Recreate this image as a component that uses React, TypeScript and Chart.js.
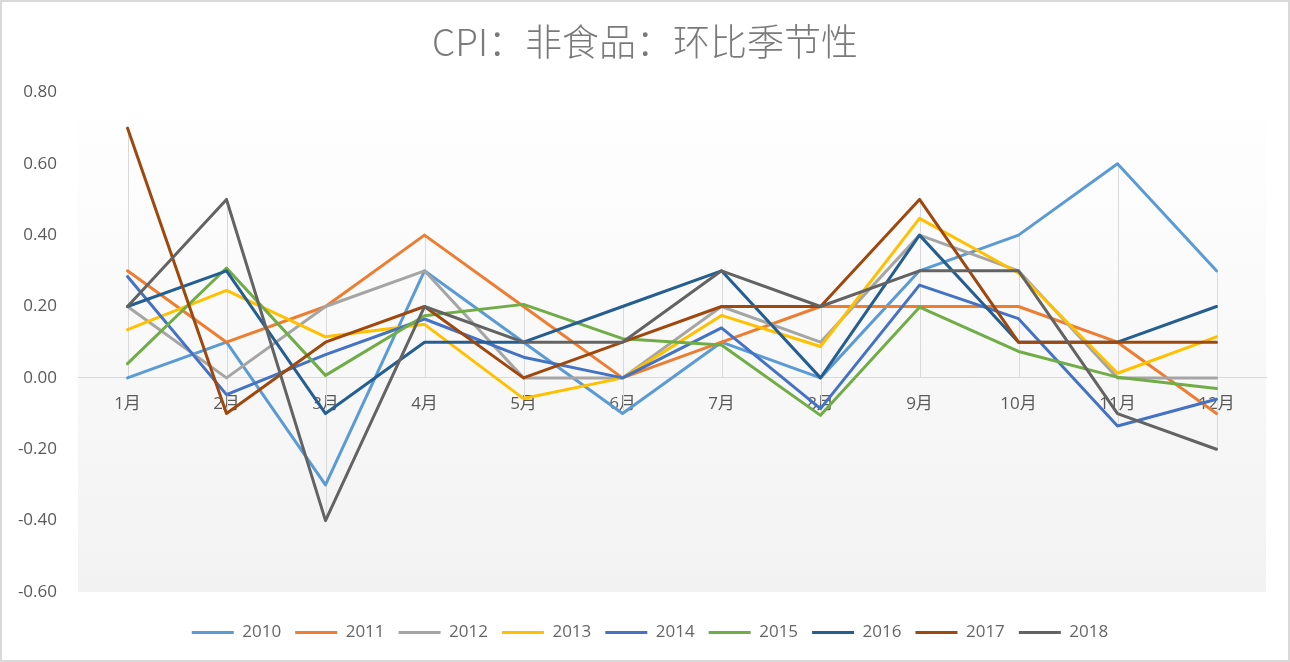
import { useEffect, useRef } from 'react';
import { Chart, registerables } from 'chart.js';

Chart.register(...registerables);

const months = ['1月', '2月', '3月', '4月', '5月', '6月', '7月', '8月', '9月', '10月', '11月', '12月'];
const years = ['2010', '2011', '2012', '2013', '2014', '2015', '2016', '2017', '2018'];
const colors = ['#5B9BD5', '#ED7D31', '#A5A5A5', '#FFC000', '#4472C4', '#70AD47', '#255E91', '#9E480E', '#636363'];

const y2010 = [0.0, 0.1, -0.3, 0.3, 0.1, -0.1, 0.1, 0.0, 0.3, 0.4, 0.6, 0.3];
const y2011 = [0.3, 0.1, 0.2, 0.4, 0.2, 0.0, 0.1, 0.2, 0.2, 0.2, 0.1, -0.1];
const y2012 = [0.2, 0.0, 0.2, 0.3, 0.0, 0.0, 0.2, 0.1, 0.4, 0.3, 0.0, 0.0];
const y2013 = [0.135, 0.245, 0.115, 0.15, -0.058, 0.0, 0.175, 0.088, 0.447, 0.294, 0.013, 0.115];
const y2014 = [0.284, -0.047, 0.065, 0.165, 0.058, 0.0, 0.14, -0.086, 0.26, 0.166, -0.135, -0.06];
const y2015 = [0.04, 0.308, 0.007, 0.174, 0.206, 0.11, 0.092, -0.105, 0.198, 0.074, 0.002, -0.03];
const y2016 = [0.2, 0.3, -0.1, 0.1, 0.1, 0.2, 0.3, 0.0, 0.4, 0.1, 0.1, 0.2];
const y2017 = [0.7, -0.1, 0.1, 0.2, 0.0, 0.1, 0.2, 0.2, 0.5, 0.1, 0.1, 0.1];
const y2018 = [0.2, 0.5, -0.4, 0.2, 0.1, 0.1, 0.3, 0.2, 0.3, 0.3, -0.1, -0.2];

const series = [y2010, y2011, y2012, y2013, y2014, y2015, y2016, y2017, y2018];

const yTicks = [-0.6, -0.4, -0.2, 0, 0.2, 0.4, 0.6, 0.8];

const labelFont = '"Open Sans", "Noto Sans CJK SC", sans-serif';

// plot area fill, white at top fading to light gray
const plotBg = {
  id: 'plotBg',
  beforeDraw(chart: any) {
    const { ctx, chartArea: a } = chart;
    const g = ctx.createLinearGradient(0, a.top, 0, a.bottom);
    g.addColorStop(0, '#ffffff');
    g.addColorStop(1, '#f2f2f2');
    ctx.save();
    ctx.fillStyle = g;
    ctx.fillRect(a.left, a.top, a.right - a.left, a.bottom - a.top);
    ctx.restore();
  },
};

// excel style drop lines: from the highest to the lowest point of each month, always touching 0
const dropLines = {
  id: 'dropLines',
  beforeDatasetsDraw(chart: any) {
    const { ctx, scales } = chart;
    ctx.save();
    ctx.strokeStyle = '#d9d9d9';
    ctx.lineWidth = 1;
    months.forEach((_, i) => {
      const vals = series.map((s) => s[i]);
      const hi = Math.max(0, ...vals);
      const lo = Math.min(0, ...vals);
      const x = Math.round(scales.x.getPixelForValue(i)) + 0.5;
      ctx.beginPath();
      ctx.moveTo(x, scales.y.getPixelForValue(hi));
      ctx.lineTo(x, scales.y.getPixelForValue(lo));
      ctx.stroke();
    });
    ctx.restore();
  },
};

// title and legend are centred on the whole canvas in the original, not on the padded box
const recenter = {
  id: 'recenter',
  afterLayout(chart: any) {
    const l = chart.legend;
    if (l) {
      l.left += 17;
      l.right += 17;
    }
    const t = chart.titleBlock;
    if (t) {
      t.left += 12;
      t.right += 12;
    }
  },
};

const frame = {
  id: 'frame',
  afterDraw(chart: any) {
    const { ctx, width, height } = chart;
    ctx.save();
    ctx.strokeStyle = '#d9d9d9';
    ctx.lineWidth = 2;
    ctx.strokeRect(1, 1, width - 2, height - 2);
    ctx.restore();
  },
};

export default function App() {
  const canvasRef = useRef<HTMLCanvasElement>(null);
  const chartRef = useRef<Chart | null>(null);

  useEffect(() => {
    document.body.style.margin = '0';
    if (!canvasRef.current) return;
    if (chartRef.current) chartRef.current.destroy();

    chartRef.current = new Chart(canvasRef.current, {
      type: 'line',
      data: {
        labels: months,
        datasets: years.map((yr, i) => ({
          label: yr,
          data: series[i],
          borderColor: colors[i],
          backgroundColor: colors[i],
          borderWidth: 3,
          borderJoinStyle: 'round' as const,
          borderCapStyle: 'round' as const,
          pointRadius: 0,
          tension: 0,
          fill: false,
          order: years.length - i, // later years on top
        })),
      },
      options: {
        responsive: true,
        maintainAspectRatio: false,
        animation: false,
        layout: { padding: { left: 0, right: 24, top: 0, bottom: 11 } },
        plugins: {
          title: {
            display: true,
            text: 'CPI：非食品：环比季节性',
            color: '#7a7a7a',
            font: { family: '"Noto Sans CJK SC", sans-serif', size: 37, weight: '300', lineHeight: 1.2 },
            padding: { top: 20, bottom: 28 },
          },
          legend: {
            position: 'bottom',
            title: { display: true, text: ' ', font: { size: 10, lineHeight: 1 }, padding: 4 },
            labels: {
              boxWidth: 42,
              boxHeight: 3,
              padding: 14,
              color: '#595959',
              font: { family: labelFont, size: 17 },
              generateLabels: () =>
                years.map((yr, i) => ({
                  text: yr,
                  fillStyle: colors[i],
                  strokeStyle: colors[i],
                  lineWidth: 0,
                  hidden: false,
                  datasetIndex: i,
                })),
            },
          },
          tooltip: { enabled: false },
        },
        scales: {
          x: {
            type: 'category',
            position: { y: 0 },
            offset: true,
            grid: { display: false, drawTicks: false },
            border: { display: true, color: '#d9d9d9', width: 1 },
            ticks: { color: '#595959', padding: 16, font: { family: labelFont, size: 17 } },
          },
          y: {
            min: yTicks[0],
            max: yTicks[yTicks.length - 1],
            afterFit: (s: any) => {
              s.width = 78;
            },
            afterBuildTicks: (s: any) => {
              s.ticks = yTicks.map((v) => ({ value: v }));
            },
            grid: { display: false, drawTicks: false },
            border: { display: false },
            ticks: {
              color: '#595959',
              padding: 21,
              font: { family: labelFont, size: 17 },
              callback: (v: any) => Number(v).toFixed(2),
            },
          },
        },
      },
      plugins: [plotBg, dropLines, recenter, frame],
    });

    return () => {
      if (chartRef.current) chartRef.current.destroy();
      chartRef.current = null;
    };
  }, []);

  return (
    <div style={{ width: '1290px', height: '662px', position: 'relative', background: '#ffffff' }}>
      <canvas ref={canvasRef} />
    </div>
  );
}
